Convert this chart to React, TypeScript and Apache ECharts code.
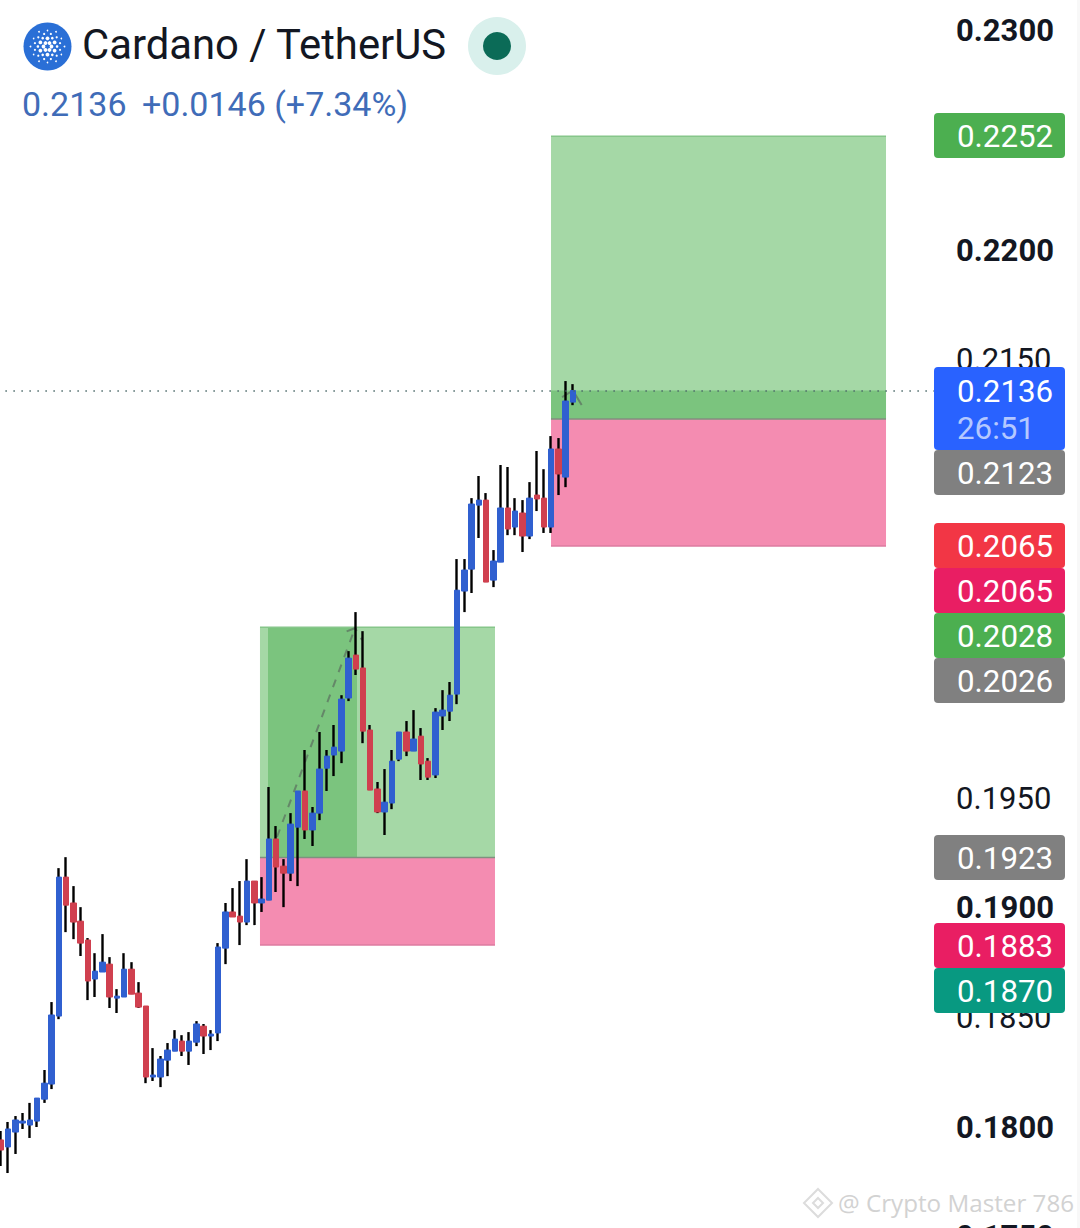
import React, { useEffect, useRef } from "react";
import * as echarts from "echarts";

const FONT = "Roboto, sans-serif";

// Candles, oldest first
const opens = [
  0.17941, 0.17909, 0.17977, 0.18018, 0.18009, 0.18027, 0.18127, 0.18196, 0.18506, 0.1914,
  0.19022, 0.18939, 0.18853, 0.18675, 0.18707, 0.18743, 0.18588, 0.18593, 0.1872, 0.18611,
  0.18552, 0.18228, 0.18228, 0.18305, 0.18346, 0.18392, 0.18346, 0.18387, 0.1846, 0.18415,
  0.18429, 0.18816, 0.18981, 0.18962, 0.18935, 0.19122, 0.19022, 0.19035, 0.19314, 0.1919,
  0.19158, 0.19368, 0.19533, 0.19355, 0.19432, 0.19637, 0.19697, 0.19715, 0.19957, 0.20153,
  0.20094, 0.19811, 0.19542, 0.19437, 0.19478, 0.19678, 0.19802, 0.19715, 0.19783, 0.19669,
  0.19606, 0.19875, 0.19897, 0.19975, 0.20445, 0.20545, 0.20837, 0.2086, 0.20495, 0.20577,
  0.20824, 0.20737, 0.20801, 0.20696, 0.20883, 0.20869, 0.20737, 0.21093, 0.20965, 0.21307,
];
const closes = [
  0.17895, 0.17991, 0.18032, 0.18027, 0.18032, 0.18132, 0.182, 0.18511, 0.1914, 0.19012,
  0.18935, 0.18839, 0.18666, 0.18711, 0.18752, 0.18593, 0.18597, 0.1872, 0.18606, 0.18547,
  0.18228, 0.18237, 0.1831, 0.18351, 0.18401, 0.18346, 0.18392, 0.1847, 0.18415, 0.18424,
  0.18821, 0.18981, 0.18958, 0.18935, 0.19122, 0.19022, 0.1904, 0.19314, 0.19186, 0.19158,
  0.19382, 0.19533, 0.19355, 0.19432, 0.19633, 0.19692, 0.19733, 0.19952, 0.20139, 0.20089,
  0.19806, 0.19537, 0.19437, 0.19482, 0.19669, 0.19802, 0.19715, 0.1977, 0.19656, 0.19596,
  0.19893, 0.19902, 0.1997, 0.20449, 0.20541, 0.20842, 0.2086, 0.20486, 0.20582, 0.20824,
  0.20728, 0.2081, 0.20696, 0.20869, 0.20865, 0.20737, 0.21093, 0.20979, 0.21312, 0.2136,
];
const lows = [
  0.17822, 0.1779, 0.17877, 0.17991, 0.1795, 0.18, 0.1811, 0.18173, 0.18492, 0.18889,
  0.18857, 0.1878, 0.18579, 0.18593, 0.18707, 0.18543, 0.1852, 0.18593, 0.18606, 0.18543,
  0.182, 0.1821, 0.18182, 0.18232, 0.18346, 0.18324, 0.18283, 0.18369, 0.18333, 0.18351,
  0.18392, 0.18743, 0.18958, 0.1883, 0.18921, 0.18921, 0.18981, 0.19035, 0.19072, 0.19003,
  0.19122, 0.19099, 0.19314, 0.19282, 0.194, 0.19533, 0.19601, 0.1966, 0.19943, 0.20062,
  0.19751, 0.19537, 0.19432, 0.19332, 0.1945, 0.19669, 0.19692, 0.19715, 0.19583, 0.19583,
  0.19592, 0.19811, 0.19852, 0.19929, 0.20349, 0.20436, 0.20687, 0.20486, 0.20463, 0.20577,
  0.207, 0.207, 0.20623, 0.20682, 0.2081, 0.2071, 0.2071, 0.20883, 0.20919, 0.21293,
];
const highs = [
  0.17982, 0.18023, 0.1805, 0.18064, 0.1811, 0.18132, 0.1826, 0.1857, 0.19181, 0.19231,
  0.19099, 0.19003, 0.18862, 0.18793, 0.1888, 0.18775, 0.18629, 0.18793, 0.18752, 0.18661,
  0.18552, 0.1836, 0.18324, 0.18383, 0.18442, 0.18419, 0.18433, 0.18483, 0.1847, 0.18442,
  0.18839, 0.19022, 0.1909, 0.19122, 0.19222, 0.19122, 0.1914, 0.19551, 0.19373, 0.19222,
  0.19432, 0.19533, 0.1972, 0.1946, 0.19802, 0.1972, 0.19834, 0.1997, 0.20171, 0.20349,
  0.20262, 0.19834, 0.19574, 0.19633, 0.1972, 0.19802, 0.19852, 0.19902, 0.1982, 0.19683,
  0.19911, 0.19993, 0.2003, 0.20591, 0.20591, 0.20869, 0.2097, 0.20892, 0.20632, 0.2102,
  0.21011, 0.20869, 0.2086, 0.20942, 0.21084, 0.21001, 0.21152, 0.21143, 0.21403, 0.21389,
];
const emptyBarsAfter = 52;
const lastPrice = 0.2136;

// Long-position drawings: bar indexes and prices
const positionStart = [35.77, 75.97];
const positionEnd = [68.23, 122.24];
const targets = [0.2028, 0.2252];
const entries = [0.1923, 0.2123];
const stops = [0.1883, 0.2065];
const reachedStart = [36.88, 75.97];
const reachedEnd = [49.17, 122.24];
const reachedTop = [0.2028, 0.2136];
const reachedBottom = [0.1923, 0.2123];

// Faint path arrows
const pathBars = [38.12, 48.9, 47.5, 48.9, 49.86];
const pathPrices = [0.19323, 0.20276, 0.20258, 0.20276, 0.20222];
const lastArrowBars = [77.5, 79, 80.2];
const lastArrowPrices = [0.2133, 0.2136, 0.21294];

// Price scale
const axisTicks = [0.23, 0.22, 0.215, 0.195, 0.19, 0.185, 0.18, 0.175];
const boldTicks = [0.23, 0.22, 0.19, 0.18, 0.175];

// Price badges
const badgeLabels = ["0.2252", "0.2123", "0.2065", "0.2065", "0.2028", "0.2026", "0.1923", "0.1883", "0.1870"];
const badgeTops = [113, 450, 523, 568, 613, 658, 835, 923, 968];
const badgeColors = ["#4caf50", "#808080", "#f23645", "#e91e63", "#4caf50", "#808080", "#808080", "#e91e63", "#089981"];

const title = "Cardano / TetherUS";
const priceText = "0.2136";
const changeText = "+0.0146 (+7.34%)";
const countdown = "26:51";
const watermark = "@ Crypto Master 786";

const BAND = 7.24;
const SHIFT = 4; // the chart's div starts this far left of the page, so the first candle can sit on the edge
const totalBars = opens.length + emptyBarsAfter;

function logoDots(cx: number, cy: number) {
  const rings = [
    { n: 6, rad: 4, r: 1.9, off: 0 },
    { n: 6, rad: 8.2, r: 1.9, off: 30 },
    { n: 6, rad: 9.6, r: 1.3, off: 0 },
    { n: 12, rad: 13, r: 1.1, off: 15 },
    { n: 6, rad: 17, r: 0.9, off: 0 },
    { n: 6, rad: 16, r: 0.8, off: 30 },
  ];
  const out: any[] = [];
  rings.forEach((g) => {
    for (let i = 0; i < g.n; i++) {
      const a = ((g.off + (i * 360) / g.n) * Math.PI) / 180;
      out.push({
        type: "circle",
        z: 100,
        shape: { cx: cx + g.rad * Math.cos(a), cy: cy + g.rad * Math.sin(a), r: g.r },
        style: { fill: "#ffffff" },
      });
    }
  });
  return out;
}

function diamond(cx: number, cy: number, r: number) {
  return {
    type: "polygon",
    z: 100,
    shape: { points: [[cx, cy - r], [cx + r, cy], [cx, cy + r], [cx - r, cy]] },
    style: { fill: "none", stroke: "#dcdcdc", lineWidth: 2 },
  };
}

function badgeText(text: string, y: number, fill = "#ffffff") {
  return {
    type: "text",
    z: 101,
    style: { text, x: 957, y, fill, fontFamily: FONT, fontSize: 31.3, textVerticalAlign: "middle" },
  };
}

export default function App() {
  const ref = useRef<HTMLDivElement>(null);
  useEffect(() => {
    document.body.style.margin = "0";
    document.body.style.background = "#ffffff";
    const chart = echarts.init(ref.current!, undefined, { renderer: "svg" });

    const categories = Array.from({ length: totalBars }, (_, i) => String(i));
    const wicks = opens.map((o, i) => [o, closes[i], lows[i], highs[i]]);
    const bodies = opens.map((o, i) => [o, closes[i], Math.min(o, closes[i]), Math.max(o, closes[i])]);
    const positions = positionStart.map((s, i) => [
      s, positionEnd[i], targets[i], entries[i], stops[i],
      reachedStart[i], reachedEnd[i], reachedTop[i], reachedBottom[i],
    ]);

    const badges: any[] = [];
    badgeLabels.forEach((t, i) => {
      badges.push({
        type: "rect",
        z: 100,
        shape: { x: 934, y: badgeTops[i], width: 131, height: 45, r: 4 },
        style: { fill: badgeColors[i] },
      });
      badges.push(badgeText(t, badgeTops[i] + 23));
    });

    chart.setOption({
      animation: false,
      backgroundColor: "#ffffff",
      grid: {
        left: SHIFT + 1 - BAND / 2,
        top: 0,
        width: totalBars * BAND,
        height: 1250,
        containLabel: false,
        outerBoundsMode: "none",
      },
      xAxis: [
        { type: "category", data: categories, show: false },
        { type: "value", min: -0.5, max: totalBars - 0.5, show: false },
      ],
      yAxis: {
        type: "value",
        position: "right",
        min: 0.174389,
        max: 0.231414,
        splitLine: { show: false },
        axisLine: { show: false },
        axisTick: { show: false },
        axisLabel: {
          margin: 3,
          customValues: axisTicks,
          formatter: (v: number) => {
            const s = v.toFixed(4);
            return boldTicks.some((b) => Math.abs(b - v) < 1e-6) ? `{b|${s}}` : `{n|${s}}`;
          },
          rich: {
            b: { fontFamily: FONT, fontSize: 31, fontWeight: "bold", color: "#131722" },
            n: { fontFamily: FONT, fontSize: 31, fontWeight: "normal", color: "#131722" },
          },
        },
      },
      series: [
        {
          type: "custom",
          xAxisIndex: 1,
          yAxisIndex: 0,
          z: 1,
          silent: true,
          encode: { x: [0, 1, 5, 6], y: [2, 3, 4, 7, 8] },
          data: positions,
          renderItem: (_p: any, api: any) => {
            const pt = (x: number, y: number) => api.coord([x, y]);
            const s = api.value(0), e = api.value(1);
            const [x0, yT] = pt(s, api.value(2));
            const [x1, yE] = pt(e, api.value(3));
            const [, yS] = pt(e, api.value(4));
            const [dx0, dy0] = pt(api.value(5), api.value(7));
            const [dx1, dy1] = pt(api.value(6), api.value(8));
            return {
              type: "group",
              children: [
                { type: "rect", shape: { x: x0, y: yT, width: x1 - x0, height: yE - yT }, style: { fill: "#a5d8a6" } },
                { type: "rect", shape: { x: x0, y: yE, width: x1 - x0, height: yS - yE }, style: { fill: "#f48cb1" } },
                { type: "rect", shape: { x: dx0, y: dy0, width: dx1 - dx0, height: dy1 - dy0 }, style: { fill: "#7bc47e" } },
                { type: "line", shape: { x1: x0, y1: yT, x2: x1, y2: yT }, style: { stroke: "#86c68a", lineWidth: 1.5 } },
                { type: "line", shape: { x1: x0, y1: yE, x2: x1, y2: yE }, style: { stroke: "#80907f", lineWidth: 1.5 } },
                { type: "line", shape: { x1: x0, y1: yS, x2: x1, y2: yS }, style: { stroke: "#dd7ba0", lineWidth: 1.5 } },
              ],
            };
          },
        },
        {
          type: "line",
          xAxisIndex: 1,
          yAxisIndex: 0,
          z: 2,
          silent: true,
          symbol: "none",
          data: pathBars.map((b, i) => [b, pathPrices[i]]),
          lineStyle: { color: "rgba(85,95,90,0.6)", width: 2, type: [8, 8] },
        },
        {
          type: "line",
          xAxisIndex: 1,
          yAxisIndex: 0,
          z: 2,
          silent: true,
          symbol: "none",
          data: lastArrowBars.map((b, i) => [b, lastArrowPrices[i]]),
          lineStyle: { color: "rgba(85,95,90,0.6)", width: 2 },
          markLine: {
            silent: true,
            symbol: "none",
            precision: 4,
            label: { show: false },
            data: [{ yAxis: lastPrice }],
            lineStyle: { color: "#4d6a6a", width: 1.5, type: [1.5, 6.5] },
          },
        },
        {
          type: "candlestick",
          z: 3,
          silent: true,
          barWidth: 1,
          data: wicks,
          itemStyle: { color: "#000000", color0: "#000000", borderColor: "#000000", borderColor0: "#000000", borderWidth: 2.4 },
        },
        {
          type: "candlestick",
          z: 4,
          silent: true,
          barWidth: 6,
          data: bodies,
          itemStyle: { color: "#3060d0", color0: "#d0404f", borderColor: "#3060d0", borderColor0: "#d0404f", borderWidth: 1 },
        },
      ],
      graphic: [
        {
          type: "group",
          x: SHIFT,
          y: 0,
          children: [
            { type: "rect", z: 99, shape: { x: 1077, y: 0, width: 3, height: 1228 }, style: { fill: "#f8f8f8" } },
            { type: "circle", z: 100, shape: { cx: 47.5, cy: 46.5, r: 24 }, style: { fill: "#2a6fd6" } },
            ...logoDots(47.5, 46.5),
            {
              type: "text",
              z: 100,
              style: { text: title, x: 82, y: 44, fill: "#131722", fontFamily: FONT, fontSize: 41.8, textVerticalAlign: "middle" },
            },
            { type: "circle", z: 100, shape: { cx: 497, cy: 46, r: 29 }, style: { fill: "#d9f0ec" } },
            { type: "circle", z: 100, shape: { cx: 497, cy: 46, r: 14 }, style: { fill: "#0b6b57" } },
            {
              type: "text",
              z: 100,
              style: { text: priceText, x: 22, y: 104, fill: "#3f6cb8", fontFamily: FONT, fontSize: 34, textVerticalAlign: "middle" },
            },
            {
              type: "text",
              z: 100,
              style: { text: changeText, x: 142, y: 104, fill: "#3f6cb8", fontFamily: FONT, fontSize: 34, textVerticalAlign: "middle" },
            },
            ...badges,
            {
              type: "rect",
              z: 100,
              shape: { x: 934, y: 367, width: 131, height: 83, r: 4 },
              style: { fill: "#2962ff" },
            },
            badgeText(priceText, 391),
            badgeText(countdown, 428, "#b4c8ff"),
            diamond(818, 1203, 14),
            diamond(818, 1203, 5),
            {
              type: "text",
              z: 100,
              style: { text: watermark, x: 838, y: 1202, fill: "#d2d2d2", fontFamily: "'Open Sans', sans-serif", fontSize: 24.2, textVerticalAlign: "middle" },
            },
          ],
        },
      ],
    });
    return () => chart.dispose();
  }, []);
  return (
    <div style={{ position: "absolute", left: 0, top: 0, width: 1080, height: 1228, overflow: "hidden" }}>
      <div ref={ref} style={{ position: "absolute", left: -SHIFT, top: 0, width: 1080 + SHIFT, height: 1250 }} />
    </div>
  );
}
